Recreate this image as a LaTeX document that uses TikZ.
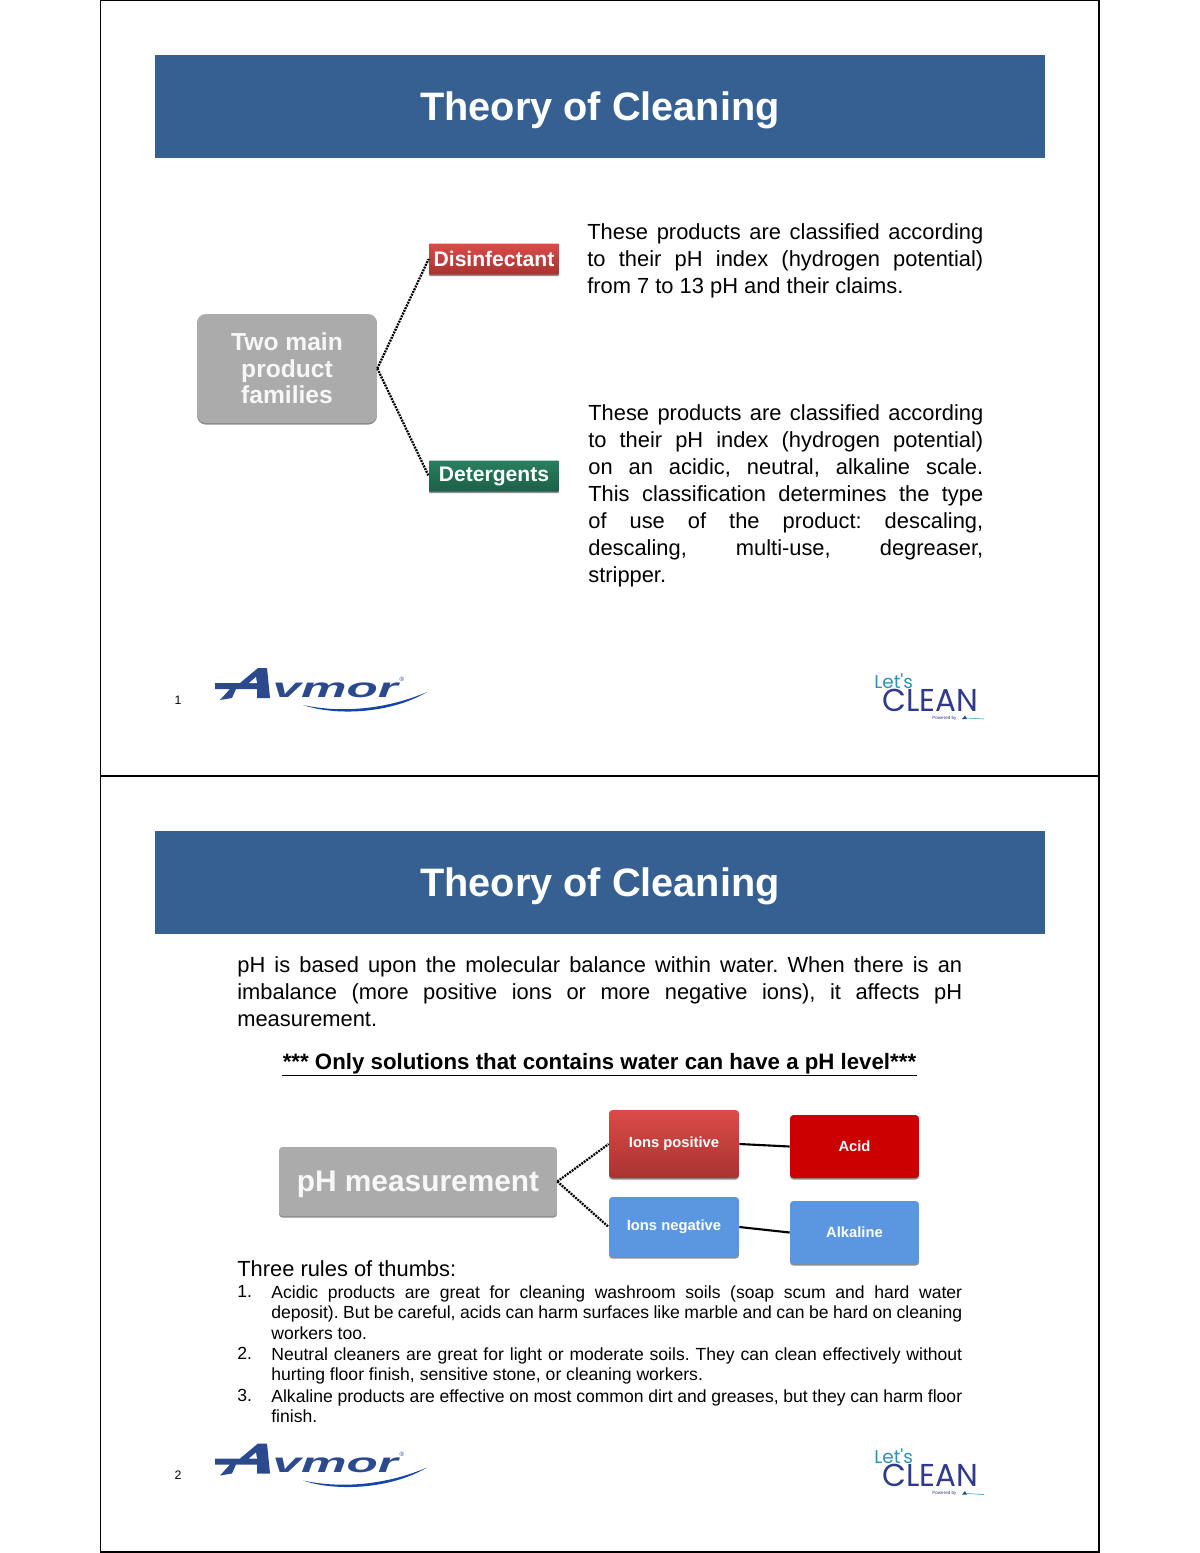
\documentclass[tikz,border=0pt]{standalone}
\usepackage{fontspec}
\usetikzlibrary{shadows}
\setmainfont{Liberation Sans}
\newfontfamily\logofont{Poppins}
\definecolor{headblue}{HTML}{366092}
\definecolor{logoblue}{HTML}{2B4A8E}
\definecolor{logoink}{HTML}{2F3A8C}
\definecolor{logoteal}{HTML}{2F8FB5}
\definecolor{boxgrey}{HTML}{ABABAB}
\definecolor{boxblue}{HTML}{5B97E0}
\definecolor{boxred}{HTML}{CC0000}
\definecolor{redtop}{HTML}{DB4B48}
\definecolor{redbot}{HTML}{A83330}
\definecolor{greentop}{HTML}{2A7F60}
\definecolor{greenbot}{HTML}{1C5F47}
\tikzset{
	slidehead/.style={fill=headblue, text=white, minimum width=17.8cm, minimum height=2.06cm, inner sep=0pt, text height=21pt, text depth=4.8pt, font=\fontsize{22.6}{26}\bfseries\selectfont},
	para/.style={anchor=north west, inner sep=0pt, text width=7.92cm, align=justify, font=\fontsize{12.45}{15.35}\selectfont},
	wide/.style={anchor=north west, inner sep=0pt, text width=14.5cm, align=justify, font=\fontsize{12.45}{15.35}\selectfont},
	rule/.style={anchor=north west, inner sep=0pt, text width=13.82cm, align=justify, font=\fontsize{10}{11.85}\selectfont},
	num/.style={anchor=north west, inner sep=0pt, font=\fontsize{10}{11.85}\selectfont},
	box/.style={rounded corners=2pt, inner sep=0pt, text=white, align=center, drop shadow={shadow xshift=0pt, shadow yshift=-0.9pt, fill=black, opacity=0.45}},
	greybox/.style={box, fill=boxgrey, text=white!97!black},
	bluebox/.style={box, fill=boxblue},
	redbox/.style={box, top color=redtop, bottom color=redbot},
	greenbox/.style={box, top color=greentop, bottom color=greenbot},
	link/.style={line width=1.3pt, dash pattern=on 1.1pt off 0.6pt},
	solidlink/.style={line width=1.2pt},
	avmor/.pic={
		% lettre A
		\fill[logoblue] (215,683) -- (240,683) -- (258,668) -- (267,668) -- (270,698) -- (257,698) -- (257,689) -- (236,689) -- (232,698) -- (220,700) -- (230,689) -- (215,689) -- cycle;
		\fill[white] (256,677) -- (257,683) -- (249,683) -- cycle;
		\node[text=logoblue, font=\fontsize{15.5}{16}\bfseries\itshape\selectfont, xscale=1.88, anchor=base west, inner sep=0pt] (vmor) at (272,697) {vmor};
		\node[text=logoblue, font=\fontsize{3.5}{4}\selectfont, inner sep=0pt] (mark) at (402,679) {®};
		% trait bleu
		\fill[logoteal!60!blue!80!black] (303,705) .. controls (340,713) and (385,710) .. (427,692) .. controls (390,714) and (335,716) .. (303,705) -- cycle;
	},
	letsclean/.pic={
		\node[text=logoteal, font=\logofont\fontsize{10.5}{11}\selectfont, anchor=base west, inner sep=0pt, text depth=0pt] (lets) at (874,688) {Let's};
		\node[text=logoink, font=\logofont\fontsize{18}{18}\selectfont, anchor=base west, inner sep=0pt, xscale=0.98, text height=12.5pt, text depth=0pt] (clean) at (882,711) {CLEAN};
		\node[text=logoink, font=\fontsize{2.6}{3}\selectfont, anchor=base west, inner sep=0pt] (powered) at (932,719) {Powered by};
		\fill[logoblue] (962,719) -- (965,715.5) -- (967,719) -- cycle;
		\draw[logoteal, line width=0.3pt] (966,718) -- (984,719);
	},
}
\hyphenpenalty=10000
\frenchspacing

\begin{document}
\begin{tikzpicture}[x=0.02cm, y=-0.02cm]
	\useasboundingbox (0,0) rectangle (1200,1553);
	% Cadres
	\draw[line width=0.6pt] (100.5,0.5) rectangle (1099,1552);
	\draw[line width=0.6pt] (100.5,776) -- (1099,776);
	% Entetes et logos
	\foreach \n/\dy in {1/0, 2/775.5} {
		\begin{scope}[shift={(0,\dy)}]
			\node[slidehead] (head\n) at (600,106.5) {Theory of Cleaning};
			\node[font=\fontsize{7}{8}\selectfont, inner sep=0pt] (page\n) at (178,700) {\n};
			\pic at (0,0) {avmor};
			\pic at (0,0) {letsclean};
		\end{scope}
	}
	% Premiere page
	\node[greybox, rounded corners=5pt, minimum width=3.6cm, minimum height=2.18cm, font=\fontsize{14}{15}\bfseries\selectfont] (two) at (287,368.5) {Two main\\product\\families};
	\node[redbox, rounded corners=0.5pt, minimum width=2.6cm, minimum height=0.62cm, font=\fontsize{12}{14}\bfseries\selectfont] (disinf) at (494,259) {Disinfectant};
	\node[greenbox, rounded corners=0.5pt, minimum width=2.6cm, minimum height=0.62cm, font=\fontsize{12}{14}\bfseries\selectfont] (deterg) at (494,476) {Detergents};
	\draw[link] (two.east) -- (disinf.west);
	\draw[link] (two.east) -- (deterg.west);
	\node[para] (textA) at (587,223) {These products are classified according\linebreak to their pH index (hydrogen potential)\linebreak from 7 to 13 pH and their claims.};
	\node[para, text width=7.9cm] (textB) at (588,404) {These products are classified according\linebreak to their pH index (hydrogen potential)\linebreak on an acidic, neutral, alkaline scale.\linebreak This classification determines the type\linebreak of use of the product: descaling,\linebreak descaling, multi-use, degreaser,\linebreak stripper.};
	% Seconde page
	\node[wide] (textC) at (237,956) {pH is based upon the molecular balance within water. When there is an\linebreak imbalance (more positive ions or more negative ions), it affects pH\linebreak measurement.};
	\node[inner sep=0.5pt, font=\fontsize{12.67}{15}\bfseries\selectfont] (only) at (599.5,1064) {*** Only solutions that contains water can have a pH level***};
	\draw[line width=1pt] (only.south west) -- (only.south east);
	\node[greybox, minimum width=5.56cm, minimum height=1.38cm, text height=15.5pt, text depth=3.6pt, font=\fontsize{17}{20}\bfseries\selectfont] (ph) at (418,1181.5) {pH measurement};
	\node[redbox, minimum width=2.6cm, minimum height=1.36cm, font=\fontsize{8.4}{10}\bfseries\selectfont] (ipos) at (674,1144) {Ions positive};
	\node[bluebox, minimum width=2.6cm, minimum height=1.2cm, font=\fontsize{8.4}{10}\bfseries\selectfont] (ineg) at (674,1227) {Ions negative};
	\node[box, fill=boxred, minimum width=2.58cm, minimum height=1.26cm, font=\fontsize{8.4}{10}\bfseries\selectfont] (acid) at (854.5,1146.5) {Acid};
	\node[bluebox, minimum width=2.58cm, minimum height=1.26cm, font=\fontsize{8.4}{10}\bfseries\selectfont] (alk) at (854.5,1232.5) {Alkaline};
	\draw[link] (ph.east) -- (ipos.west);
	\draw[link] (ph.east) -- (ineg.west);
	\draw[solidlink] (ipos.east) -- (acid.west);
	\draw[solidlink] (ineg.east) -- (alk.west);
	\node[num, font=\fontsize{12.45}{15}\selectfont] (rules) at (237,1260) {Three rules of thumbs:};
	\node[num] (numA) at (237,1285) {1.};
	\node[rule] (ruleA) at (271,1285) {Acidic products are great for cleaning washroom soils (soap scum and hard water\linebreak deposit). But be careful, acids can harm surfaces like marble and can be hard on cleaning\linebreak workers too.};
	\node[num] (numB) at (237,1347) {2.};
	\node[rule] (ruleB) at (271,1347) {Neutral cleaners are great for light or moderate soils. They can clean effectively without\linebreak hurting floor finish, sensitive stone, or cleaning workers.};
	\node[num] (numC) at (237,1389) {3.};
	\node[rule] (ruleC) at (271,1389) {Alkaline products are effective on most common dirt and greases, but they can harm floor\linebreak finish.};
\end{tikzpicture}
\end{document}
